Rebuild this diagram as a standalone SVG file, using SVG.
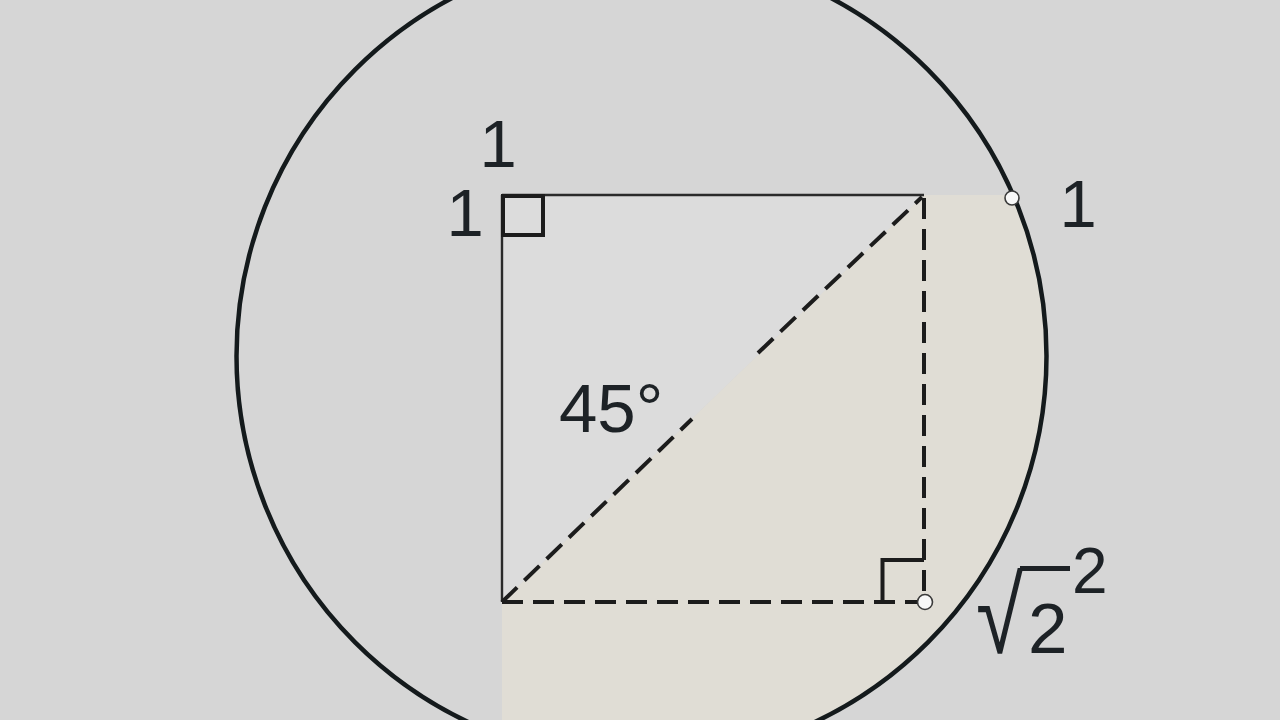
<svg xmlns="http://www.w3.org/2000/svg" width="1280" height="720" viewBox="0 0 1280 720">
<style>
.bg{fill:#d6d6d6}
.thin{stroke:#2a2a2a;stroke-width:2.4;fill:none}
.dash{stroke:#1c1c1c;stroke-width:4;fill:none;stroke-dasharray:21 10}
.mark{stroke:#1c1c1c;stroke-width:4;fill:none}
.dot{fill:#f8f8f8;stroke:#3a3a3a;stroke-width:1.6}
.lbl{font-family:"Liberation Sans",Arial,sans-serif;fill:#1d2226}
</style>
<defs>
<clipPath id="circ"><circle cx="641.5" cy="356" r="405"/></clipPath>
</defs>
<rect class="bg" x="0" y="0" width="1280" height="720"/>
<g id="regions">
<polygon points="502,195 924,195 502,602" fill="#dcdcdc"/>
<path d="M502,602 L924,195 L1100,195 L1100,720 L502,720 Z" fill="#e0ddd5" clip-path="url(#circ)"/>
</g>
<g id="circle">
<circle cx="641.5" cy="356" r="405" fill="none" stroke="#141a1c" stroke-width="4.5"/>
</g>
<g id="connectors">
<line class="thin" x1="502" y1="195" x2="924" y2="195"/>
<line class="thin" x1="502" y1="195" x2="502" y2="602"/>
<line class="dash" x1="924" y1="198" x2="924" y2="602"/>
<line class="dash" x1="502" y1="602" x2="924" y2="602"/>
<line class="dash" x1="502" y1="602" x2="692" y2="419"/>
<line class="dash" x1="758" y1="353" x2="922" y2="197"/>
</g>
<g id="right-angles">
<rect class="mark" x="503" y="196" width="40" height="39"/>
<polyline class="mark" points="882.5,602 882.5,560 924,560"/>
</g>
<g id="points">
<circle class="dot" cx="1012" cy="198" r="7"/>
<circle class="dot" cx="925" cy="602" r="7.5"/>
</g>
<g id="labels">
<text class="lbl" x="479.5" y="167" font-size="67">1</text>
<text class="lbl" x="446.5" y="236" font-size="67">1</text>
<text class="lbl" x="1059.5" y="227" font-size="67">1</text>
<text class="lbl" x="559" y="432" font-size="69">45°</text>
<text class="lbl" transform="translate(976,653) scale(1,1.25)" x="0" y="0" font-size="86">√</text>
<line x1="1020" y1="568.5" x2="1070" y2="568.5" stroke="#1d2226" stroke-width="5"/>
<text class="lbl" x="1028" y="653" font-size="71">2</text>
<text class="lbl" x="1072" y="593" font-size="64">2</text>
</g>
</svg>
